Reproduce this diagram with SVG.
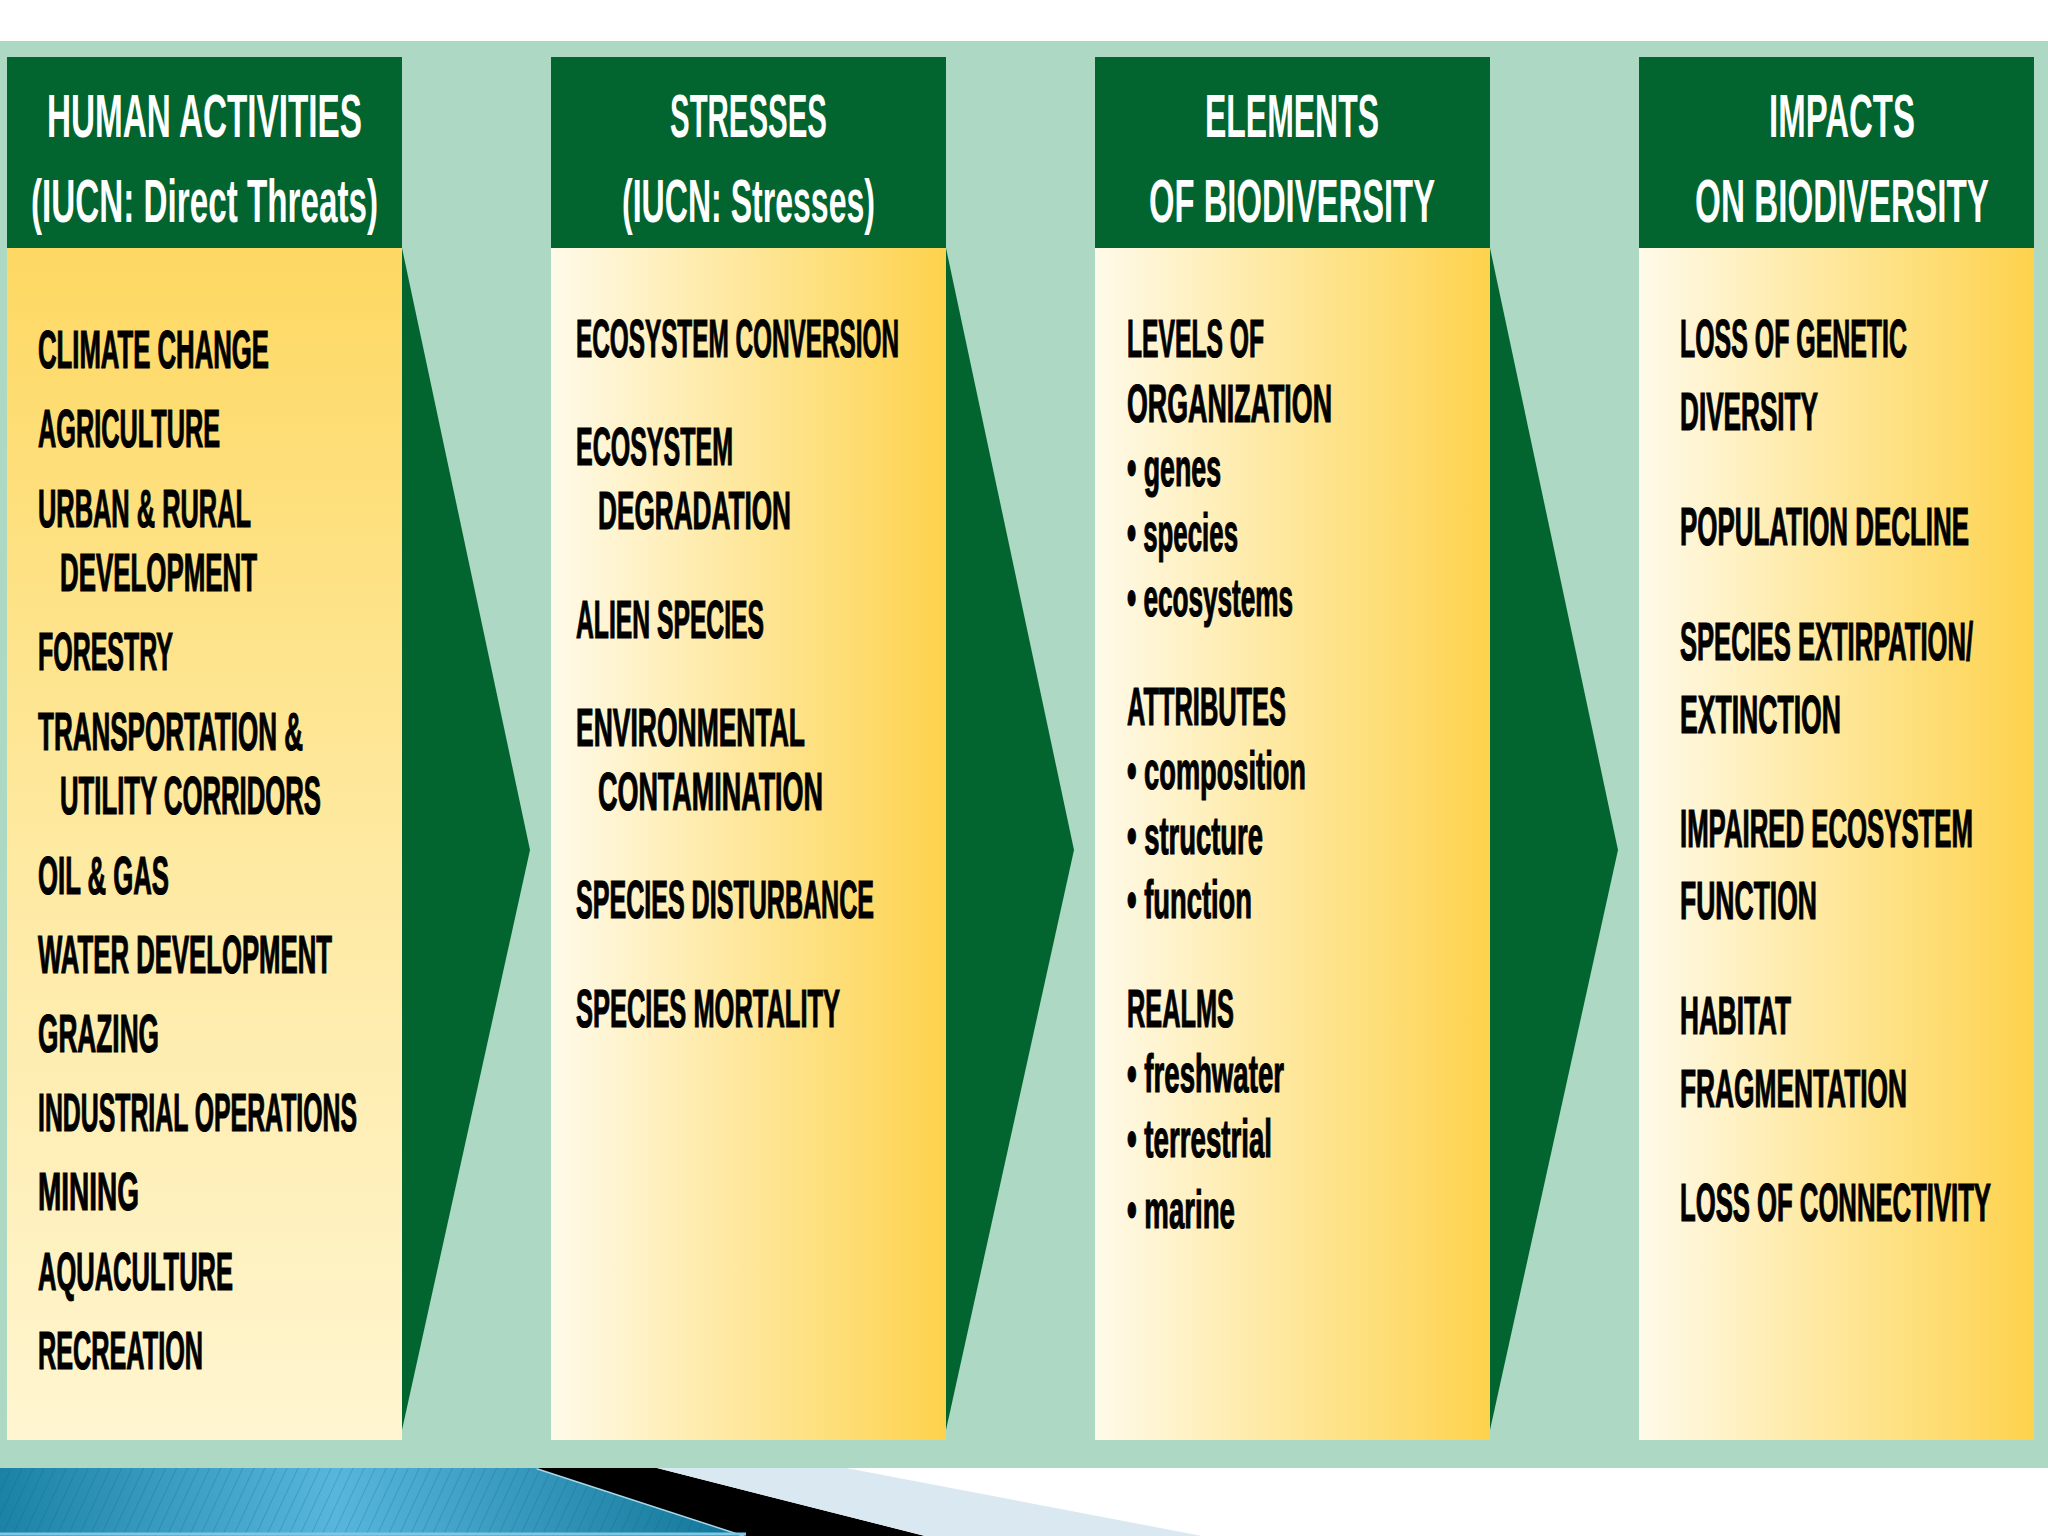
<svg xmlns="http://www.w3.org/2000/svg" width="2048" height="1536" viewBox="0 0 2048 1536">
  <defs>
    <linearGradient id="gradV" x1="0" y1="0" x2="0" y2="1">
      <stop offset="0" stop-color="#fdd862"/>
      <stop offset="0.5" stop-color="#fee9a0"/>
      <stop offset="1" stop-color="#fff5d0"/>
    </linearGradient>
    <linearGradient id="gradH" x1="0" y1="0" x2="1" y2="0">
      <stop offset="0" stop-color="#fffaea"/>
      <stop offset="0.45" stop-color="#fee9a2"/>
      <stop offset="1" stop-color="#fdd24c"/>
    </linearGradient>
    <linearGradient id="blueGrad" x1="0" y1="0" x2="1" y2="0">
      <stop offset="0" stop-color="#1b82a6"/>
      <stop offset="0.45" stop-color="#58b6dc"/>
      <stop offset="1" stop-color="#0f7597"/>
    </linearGradient>
    <pattern id="stripes" width="10" height="10" patternUnits="userSpaceOnUse" patternTransform="rotate(25)">
      <line x1="0" y1="0" x2="0" y2="10" stroke="#0b5f80" stroke-width="2" stroke-opacity="0.25"/>
    </pattern>
    <style>
      .hdr { fill: #02652f; }
      .hdrtxt { font-family: "Liberation Sans", Arial, sans-serif; font-weight: bold; font-size: 62px; fill: #ffffff; }
      .body { font-family: "Liberation Sans", Arial, sans-serif; font-weight: bold; font-size: 53px; fill: #000000; stroke: #000000; stroke-width: 1.2px; }
      .chev { fill: #02652f; }
    </style>
  </defs>

  <!-- background -->
  <rect x="0" y="0" width="2048" height="1536" fill="#ffffff"/>
  <rect x="0" y="41" width="2048" height="1427" fill="#acd8c4"/>

  <!-- footer -->
  <g id="footer">
    <polygon points="0,1468 537,1468 746,1536 0,1536" fill="url(#blueGrad)"/>
    <polygon points="0,1468 537,1468 746,1536 0,1536" fill="url(#stripes)"/>
    <line x1="537" y1="1468" x2="746" y2="1536" stroke="#a9d8ea" stroke-width="3"/>
    <polygon points="537,1468 657,1468 925,1536 746,1536" fill="#000000"/>
    <polygon points="657,1468 846,1468 1202,1536 925,1536" fill="#d9e8f1"/>
    <line x1="0" y1="1534" x2="746" y2="1534" stroke="#7cc7e6" stroke-width="3"/>
  </g>

  <!-- connectors (chevrons) -->
  <g id="connectors">
    <polygon class="chev" points="402,248 530,850 402,1430"/>
    <polygon class="chev" points="946,248 1074,850 946,1430"/>
    <polygon class="chev" points="1490,248 1618,850 1490,1430"/>
  </g>

  <!-- Column 1 -->
  <g id="human-activities">
    <rect x="7" y="248" width="395" height="1192" fill="url(#gradV)"/>
    <rect class="hdr" x="7" y="57" width="395" height="191"/>
    <text class="hdrtxt" transform="translate(47,137) scale(0.5,1)" textLength="630" lengthAdjust="spacingAndGlyphs">HUMAN ACTIVITIES</text>
    <text class="hdrtxt" transform="translate(31,222) scale(0.5,1)" textLength="694" lengthAdjust="spacingAndGlyphs">(IUCN: Direct Threats)</text>
    <text class="body" transform="translate(38,368) scale(0.5,1)" textLength="462" lengthAdjust="spacingAndGlyphs">CLIMATE CHANGE</text>
    <text class="body" transform="translate(38,447) scale(0.5,1)" textLength="364" lengthAdjust="spacingAndGlyphs">AGRICULTURE</text>
    <text class="body" transform="translate(38,527) scale(0.5,1)" textLength="426" lengthAdjust="spacingAndGlyphs">URBAN &amp; RURAL</text>
    <text class="body" transform="translate(60,591) scale(0.5,1)" textLength="394" lengthAdjust="spacingAndGlyphs">DEVELOPMENT</text>
    <text class="body" transform="translate(38,670) scale(0.5,1)" textLength="270" lengthAdjust="spacingAndGlyphs">FORESTRY</text>
    <text class="body" transform="translate(38,750) scale(0.5,1)" textLength="530" lengthAdjust="spacingAndGlyphs">TRANSPORTATION &amp;</text>
    <text class="body" transform="translate(60,814) scale(0.5,1)" textLength="522" lengthAdjust="spacingAndGlyphs">UTILITY CORRIDORS</text>
    <text class="body" transform="translate(38,894) scale(0.5,1)" textLength="262" lengthAdjust="spacingAndGlyphs">OIL &amp; GAS</text>
    <text class="body" transform="translate(38,973) scale(0.5,1)" textLength="588" lengthAdjust="spacingAndGlyphs">WATER DEVELOPMENT</text>
    <text class="body" transform="translate(38,1052) scale(0.5,1)" textLength="242" lengthAdjust="spacingAndGlyphs">GRAZING</text>
    <text class="body" transform="translate(38,1131) scale(0.5,1)" textLength="638" lengthAdjust="spacingAndGlyphs">INDUSTRIAL OPERATIONS</text>
    <text class="body" transform="translate(38,1210) scale(0.5,1)" textLength="202" lengthAdjust="spacingAndGlyphs">MINING</text>
    <text class="body" transform="translate(38,1290) scale(0.5,1)" textLength="390" lengthAdjust="spacingAndGlyphs">AQUACULTURE</text>
    <text class="body" transform="translate(38,1369) scale(0.5,1)" textLength="330" lengthAdjust="spacingAndGlyphs">RECREATION</text>
  </g>

  <!-- Column 2 -->
  <g id="stresses">
    <rect x="551" y="248" width="395" height="1192" fill="url(#gradH)"/>
    <rect class="hdr" x="551" y="57" width="395" height="191"/>
    <text class="hdrtxt" transform="translate(670,137) scale(0.5,1)" textLength="314" lengthAdjust="spacingAndGlyphs">STRESSES</text>
    <text class="hdrtxt" transform="translate(622,222) scale(0.5,1)" textLength="506" lengthAdjust="spacingAndGlyphs">(IUCN: Stresses)</text>
    <text class="body" transform="translate(576,357) scale(0.5,1)" textLength="646" lengthAdjust="spacingAndGlyphs">ECOSYSTEM CONVERSION</text>
    <text class="body" transform="translate(576,465) scale(0.5,1)" textLength="314" lengthAdjust="spacingAndGlyphs">ECOSYSTEM</text>
    <text class="body" transform="translate(598,529) scale(0.5,1)" textLength="386" lengthAdjust="spacingAndGlyphs">DEGRADATION</text>
    <text class="body" transform="translate(576,638) scale(0.5,1)" textLength="376" lengthAdjust="spacingAndGlyphs">ALIEN SPECIES</text>
    <text class="body" transform="translate(576,746) scale(0.5,1)" textLength="458" lengthAdjust="spacingAndGlyphs">ENVIRONMENTAL</text>
    <text class="body" transform="translate(598,810) scale(0.5,1)" textLength="450" lengthAdjust="spacingAndGlyphs">CONTAMINATION</text>
    <text class="body" transform="translate(576,918) scale(0.5,1)" textLength="596" lengthAdjust="spacingAndGlyphs">SPECIES DISTURBANCE</text>
    <text class="body" transform="translate(576,1027) scale(0.5,1)" textLength="528" lengthAdjust="spacingAndGlyphs">SPECIES MORTALITY</text>
  </g>

  <!-- Column 3 -->
  <g id="elements-of-biodiversity">
    <rect x="1095" y="248" width="395" height="1192" fill="url(#gradH)"/>
    <rect class="hdr" x="1095" y="57" width="395" height="191"/>
    <text class="hdrtxt" transform="translate(1205,137) scale(0.5,1)" textLength="348" lengthAdjust="spacingAndGlyphs">ELEMENTS</text>
    <text class="hdrtxt" transform="translate(1149,222) scale(0.5,1)" textLength="572" lengthAdjust="spacingAndGlyphs">OF BIODIVERSITY</text>
    <text class="body" transform="translate(1127,357) scale(0.5,1)" textLength="274" lengthAdjust="spacingAndGlyphs">LEVELS OF</text>
    <text class="body" transform="translate(1127,422) scale(0.5,1)" textLength="410" lengthAdjust="spacingAndGlyphs">ORGANIZATION</text>
    <text class="body" transform="translate(1127,486) scale(0.5,1)" textLength="188" lengthAdjust="spacingAndGlyphs">• genes</text>
    <text class="body" transform="translate(1127,551) scale(0.5,1)" textLength="222" lengthAdjust="spacingAndGlyphs">• species</text>
    <text class="body" transform="translate(1127,616) scale(0.5,1)" textLength="332" lengthAdjust="spacingAndGlyphs">• ecosystems</text>
    <text class="body" transform="translate(1127,725) scale(0.5,1)" textLength="318" lengthAdjust="spacingAndGlyphs">ATTRIBUTES</text>
    <text class="body" transform="translate(1127,789) scale(0.5,1)" textLength="358" lengthAdjust="spacingAndGlyphs">• composition</text>
    <text class="body" transform="translate(1127,854) scale(0.5,1)" textLength="272" lengthAdjust="spacingAndGlyphs">• structure</text>
    <text class="body" transform="translate(1127,918) scale(0.5,1)" textLength="250" lengthAdjust="spacingAndGlyphs">• function</text>
    <text class="body" transform="translate(1127,1027) scale(0.5,1)" textLength="214" lengthAdjust="spacingAndGlyphs">REALMS</text>
    <text class="body" transform="translate(1127,1092) scale(0.5,1)" textLength="314" lengthAdjust="spacingAndGlyphs">• freshwater</text>
    <text class="body" transform="translate(1127,1157) scale(0.5,1)" textLength="290" lengthAdjust="spacingAndGlyphs">• terrestrial</text>
    <text class="body" transform="translate(1127,1228) scale(0.5,1)" textLength="216" lengthAdjust="spacingAndGlyphs">• marine</text>
  </g>

  <!-- Column 4 -->
  <g id="impacts-on-biodiversity">
    <rect x="1639" y="248" width="395" height="1192" fill="url(#gradH)"/>
    <rect class="hdr" x="1639" y="57" width="395" height="191"/>
    <text class="hdrtxt" transform="translate(1769,137) scale(0.5,1)" textLength="292" lengthAdjust="spacingAndGlyphs">IMPACTS</text>
    <text class="hdrtxt" transform="translate(1695,222) scale(0.5,1)" textLength="588" lengthAdjust="spacingAndGlyphs">ON BIODIVERSITY</text>
    <text class="body" transform="translate(1680,357) scale(0.5,1)" textLength="454" lengthAdjust="spacingAndGlyphs">LOSS OF GENETIC</text>
    <text class="body" transform="translate(1680,430) scale(0.5,1)" textLength="276" lengthAdjust="spacingAndGlyphs">DIVERSITY</text>
    <text class="body" transform="translate(1680,545) scale(0.5,1)" textLength="578" lengthAdjust="spacingAndGlyphs">POPULATION DECLINE</text>
    <text class="body" transform="translate(1680,660) scale(0.5,1)" textLength="586" lengthAdjust="spacingAndGlyphs">SPECIES EXTIRPATION/</text>
    <text class="body" transform="translate(1680,733) scale(0.5,1)" textLength="322" lengthAdjust="spacingAndGlyphs">EXTINCTION</text>
    <text class="body" transform="translate(1680,847) scale(0.5,1)" textLength="586" lengthAdjust="spacingAndGlyphs">IMPAIRED ECOSYSTEM</text>
    <text class="body" transform="translate(1680,919) scale(0.5,1)" textLength="274" lengthAdjust="spacingAndGlyphs">FUNCTION</text>
    <text class="body" transform="translate(1680,1034) scale(0.5,1)" textLength="222" lengthAdjust="spacingAndGlyphs">HABITAT</text>
    <text class="body" transform="translate(1680,1107) scale(0.5,1)" textLength="454" lengthAdjust="spacingAndGlyphs">FRAGMENTATION</text>
    <text class="body" transform="translate(1680,1221) scale(0.5,1)" textLength="622" lengthAdjust="spacingAndGlyphs">LOSS OF CONNECTIVITY</text>
  </g>
</svg>
